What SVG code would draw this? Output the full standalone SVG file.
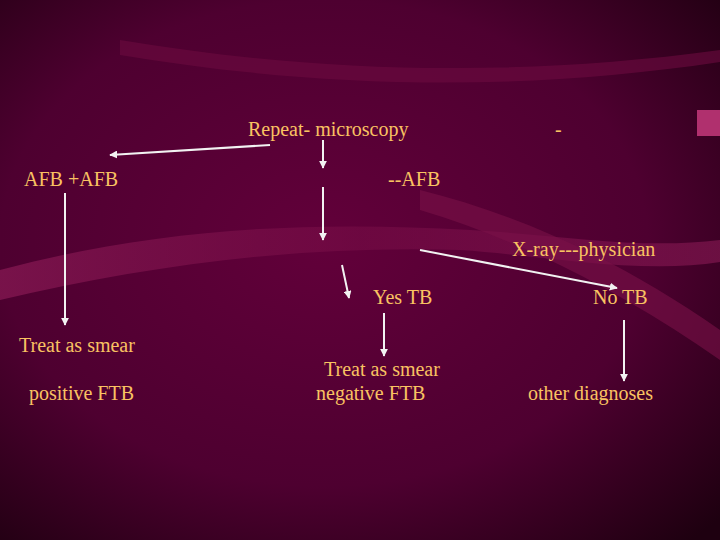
<svg xmlns="http://www.w3.org/2000/svg" width="720" height="540" viewBox="0 0 720 540">
<defs>
<radialGradient id="bg" cx="0.45" cy="0.45" r="0.75">
<stop offset="0" stop-color="#62003a"/>
<stop offset="0.6" stop-color="#4e0030"/>
<stop offset="1" stop-color="#1e0010"/>
</radialGradient>
<linearGradient id="sw" x1="0" y1="0" x2="1" y2="0">
<stop offset="0" stop-color="#8a1a55" stop-opacity="0.7"/>
<stop offset="0.5" stop-color="#7a0f48" stop-opacity="0.5"/>
<stop offset="1" stop-color="#8a1a55" stop-opacity="0.6"/>
</linearGradient>
<marker id="ah" viewBox="0 0 10 10" refX="9" refY="5" markerWidth="4" markerHeight="4" orient="auto">
<path d="M0,0 L10,5 L0,10 z" fill="#f2f2f2"/>
</marker>
<style>
text{font-family:"Liberation Serif","Times New Roman",serif;font-size:20px;fill:#f9c262}
.c{stroke:#f2f2f2;stroke-width:2;fill:none;marker-end:url(#ah)}
</style>
</defs>
<rect width="720" height="540" fill="url(#bg)"/>
<path d="M0,270 C150,230 300,220 470,230 C560,235 640,250 720,240 L720,262 C640,275 540,255 460,250 C300,245 150,265 0,300 z" fill="url(#sw)"/>
<path d="M120,40 C300,70 500,80 720,50 L720,62 C500,95 300,85 120,55 z" fill="#6c0a40" opacity="0.6"/>
<path d="M420,190 C520,215 620,260 720,330 L720,360 C620,290 520,240 420,210 z" fill="#7a1048" opacity="0.6"/>
<rect x="697" y="110" width="23" height="26" fill="#b0306e"/>
<g id="connectors">
<line class="c" x1="270" y1="145" x2="110" y2="155"/>
<line class="c" x1="323" y1="140" x2="323" y2="168"/>
<line class="c" x1="65" y1="193" x2="65" y2="325"/>
<line class="c" x1="323" y1="187" x2="323" y2="240"/>
<line class="c" x1="420" y1="250" x2="617" y2="288"/>
<line class="c" x1="342" y1="265" x2="349" y2="298"/>
<line class="c" x1="384" y1="313" x2="384" y2="356"/>
<line class="c" x1="624" y1="320" x2="624" y2="381"/>
</g>
<g id="repeat"><text x="248" y="136">Repeat- microscopy</text></g>
<g id="dash"><text x="555" y="136">-</text></g>
<g id="afbpos"><text x="24" y="186">AFB +AFB</text></g>
<g id="afbneg"><text x="388" y="186">--AFB</text></g>
<g id="xray"><text x="512" y="256">X-ray---physician</text></g>
<g id="yestb"><text x="373" y="304">Yes TB</text></g>
<g id="notb"><text x="593" y="304">No TB</text></g>
<g id="pos"><text x="19" y="352">Treat as smear</text><text x="29" y="400">positive FTB</text></g>
<g id="neg"><text x="324" y="376">Treat as smear</text><text x="316" y="400">negative FTB</text></g>
<g id="other"><text x="528" y="400">other diagnoses</text></g>
</svg>
